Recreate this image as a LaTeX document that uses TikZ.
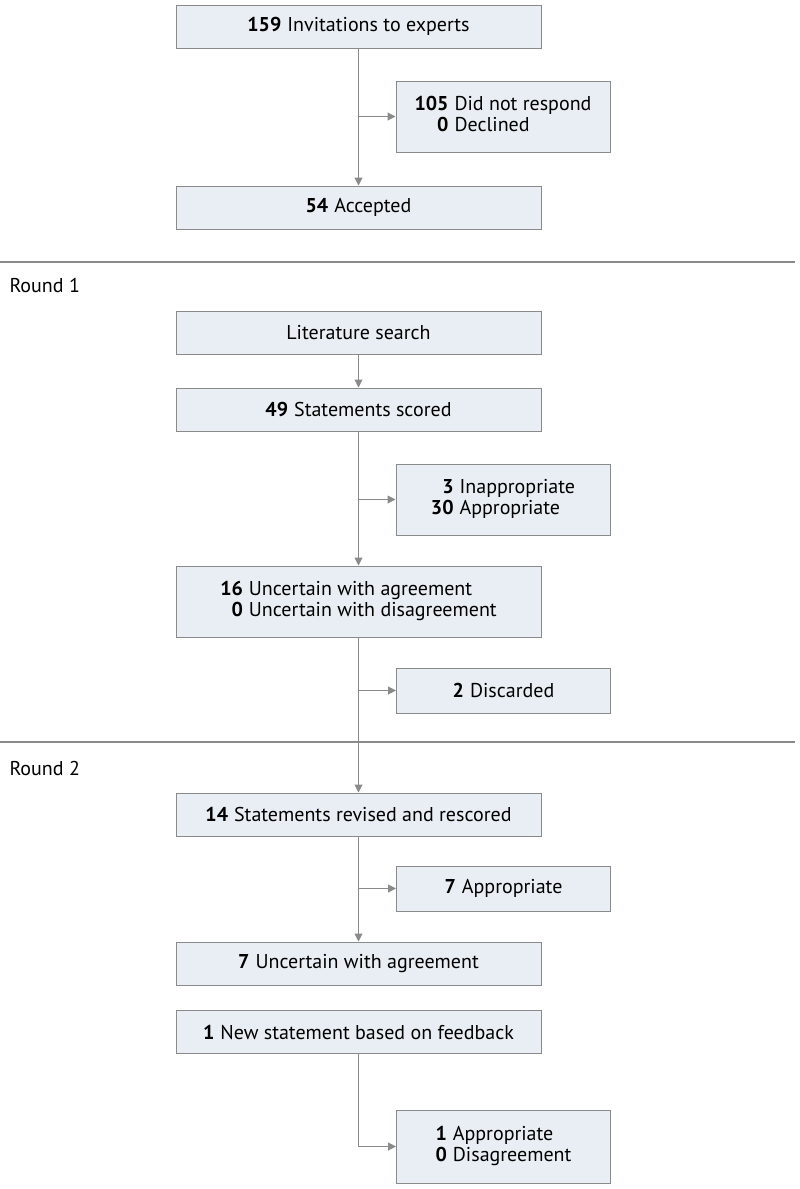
\documentclass[tikz,border=0pt]{standalone}
\usepackage{fontspec}
\setmainfont{PT Sans}
\usetikzlibrary{arrows.meta}
\definecolor{bx}{HTML}{E8EEF3}
\definecolor{ln}{HTML}{8A8A8A}
\begin{document}
\begin{tikzpicture}[x=1pt,y=-1pt,
 box/.style={draw=ln,fill=bx,line width=1pt,inner sep=0pt,font=\fontsize{20}{24}\selectfont},
 main/.style={box,minimum width=365pt,minimum height=43pt},
 side/.style={box,minimum width=214pt},
 arr/.style={draw=ln,line width=1pt,-{Triangle[length=8pt,width=8pt]}},
 sep/.style={draw=ln,line width=2pt}]
\useasboundingbox (0,0) rectangle (800,1189);
\newcommand\nb[1]{\textbf{#1}\hspace{6pt}}
\node[main] (a) at (358.5,26.5) {\nb{159}Invitations to experts};
\node[side,minimum height=71pt] (b) at (503,116.5) {\begin{tabular}{@{}r@{\hspace{6pt}}l@{}}\textbf{105}&Did not respond\\[-3pt]\textbf{0}&Declined\end{tabular}};
\node[main] (c) at (358.5,207.5) {\nb{54}Accepted};
\coordinate (l1a) at (0,262); \coordinate (l1b) at (795,262);
\draw[sep] (l1a) -- (l1b);
\node[anchor=west,font=\fontsize{20}{24}\selectfont] (r1) at (6,285) {Round 1};
\node[main] (d) at (358.5,332.5) {Literature search};
\node[main] (e) at (358.5,409.5) {\nb{49}Statements scored};
\node[side,minimum height=71pt] (f) at (503,499.5) {\begin{tabular}{@{}r@{\hspace{6pt}}l@{}}\textbf{3}&Inappropriate\\[-3pt]\textbf{30}&Appropriate\end{tabular}};
\node[main,minimum height=71pt] (g) at (358.5,601.5) {\begin{tabular}{@{}r@{\hspace{6pt}}l@{}}\textbf{16}&Uncertain with agreement\\[-3pt]\textbf{0}&Uncertain with disagreement\end{tabular}};
\node[side,minimum height=45pt] (h) at (503.5,690.5) {\nb{2}Discarded};
\coordinate (l2a) at (0,742); \coordinate (l2b) at (795,742);
\draw[sep] (l2a) -- (l2b);
\node[anchor=west,font=\fontsize{20}{24}\selectfont] (r2) at (6,768) {Round 2};
\node[main] (i) at (358.5,814.5) {\nb{14}Statements revised and rescored};
\node[side,minimum height=45pt] (j) at (503.5,888.5) {\nb{7}Appropriate};
\node[main] (k) at (358.5,963.5) {\nb{7}Uncertain with agreement};
\node[main] (m) at (358.5,1032) {\nb{1}New statement based on feedback};
\node[side,minimum height=73pt] (n) at (503.5,1146.5) {\begin{tabular}{@{}r@{\hspace{6pt}}l@{}}\textbf{1}&Appropriate\\[-3pt]\textbf{0}&Disagreement\end{tabular}};
\draw[arr] (a) -- (c);
\draw[arr] (a.south |- b.west) -- (b.west);
\draw[arr] (d) -- (e);
\draw[arr] (e) -- (g);
\draw[arr] (e.south |- f.west) -- (f.west);
\draw[arr] (g) -- (i);
\draw[arr] (g.south |- h.west) -- (h.west);
\draw[arr] (i) -- (k);
\draw[arr] (i.south |- j.west) -- (j.west);
\draw[arr] (m.south) |- (n.west);
\end{tikzpicture}
\end{document}
